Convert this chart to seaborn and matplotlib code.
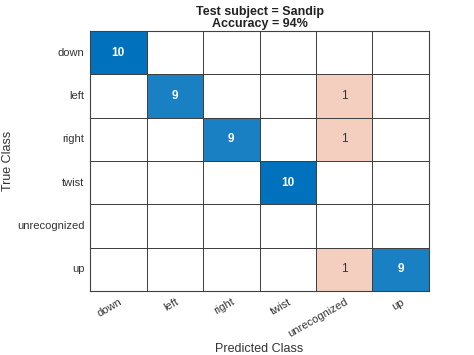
import numpy as np
import pandas as pd
import matplotlib
matplotlib.use("Agg")
import matplotlib.pyplot as plt
import seaborn as sns
from matplotlib.colors import LinearSegmentedColormap

classes = ["down", "left", "right", "twist", "unrecognized", "up"]
# rows = true class, columns = predicted class
counts = [
    [10, 0, 0, 0, 0, 0],
    [0, 9, 0, 0, 1, 0],
    [0, 0, 9, 0, 1, 0],
    [0, 0, 0, 10, 0, 0],
    [0, 0, 0, 0, 0, 0],
    [0, 0, 0, 0, 1, 9],
]
title = "Test subject = Sandip\nAccuracy = 94%"

sns.set_theme(style="white")
plt.rcParams["font.family"] = ["Liberation Sans", "DejaVu Sans"]

df = pd.DataFrame(counts, index=classes, columns=classes)
arr = df.values
diag = np.eye(len(classes), dtype=bool)
zero = arr == 0

blue = LinearSegmentedColormap.from_list("b", ["#ffffff", "#0072bd"])
red = LinearSegmentedColormap.from_list("r", ["#ffffff", "#d95319"])
white = LinearSegmentedColormap.from_list("w", ["#ffffff", "#ffffff"])

fig = plt.figure(figsize=(4.74, 3.55), dpi=100)
ax = fig.add_axes([0.19, 0.18, 0.715, 0.733])

line_kw = dict(linewidths=0.6, linecolor="#404040", cbar=False, square=False)
sns.heatmap(df, cmap=white, vmin=0, vmax=1, annot=False, ax=ax, **line_kw)
sns.heatmap(df, mask=~diag | zero, cmap=blue, vmin=0, vmax=10, annot=True, fmt="d",
            annot_kws=dict(fontsize=8.5, fontweight="bold", color="white"), ax=ax, **line_kw)
sns.heatmap(df, mask=diag | zero, cmap=red, vmin=0, vmax=3.6, annot=True, fmt="d",
            annot_kws=dict(fontsize=8.5, color="#333333"), ax=ax, **line_kw)

for s in ax.spines.values():
    s.set_visible(True)
    s.set_color("#404040")
    s.set_linewidth(0.8)

ax.tick_params(axis="both", length=0, labelsize=8, colors="#333333", pad=4)
ax.set_yticklabels(classes, rotation=0)
ax.set_xticklabels(classes, rotation=30, ha="right", rotation_mode="anchor")
ax.set_xlabel("Predicted Class", fontsize=9, color="#333333", labelpad=3)
ax.set_ylabel("True Class", fontsize=9, color="#333333", labelpad=2)
ax.set_title(title, fontsize=9, fontweight="bold", color="#222222", pad=3, linespacing=1.0)

fig.savefig("out.png", dpi=100)
